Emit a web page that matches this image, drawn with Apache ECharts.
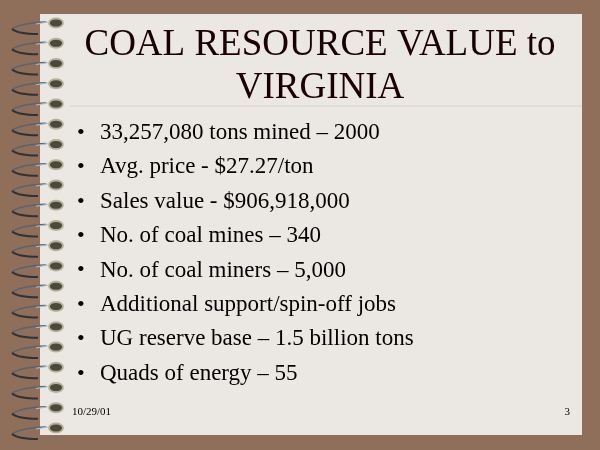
<!DOCTYPE html>
<html><head><meta charset="utf-8">
<script src="https://cdn.jsdelivr.net/npm/echarts@6/dist/echarts.min.js"></script>
<style>html,body{margin:0;padding:0;background:#8f6e5a}#c{width:600px;height:450px}</style>
</head><body><div id="c"></div>
<script>
const titleLines = ["COAL RESOURCE VALUE to", "VIRGINIA"];
const bullets = [
  "33,257,080 tons mined \u2013 2000",
  "Avg. price - $27.27/ton",
  "Sales value - $906,918,000",
  "No. of coal mines \u2013 340",
  "No. of coal miners \u2013 5,000",
  "Additional support/spin-off jobs",
  "UG reserve base \u2013 1.5 billion tons",
  "Quads of energy \u2013 55"
];
const footerDate = "10/29/01";
const pageNumber = "3";
const ringCount = 21;

const chart = echarts.init(document.getElementById('c'));
const g = [];
g.push({type:'rect', shape:{x:0,y:0,width:600,height:450}, style:{fill:'#8f6e5a'}});
g.push({type:'rect', shape:{x:40,y:14,width:542,height:421}, style:{fill:'#ebe7e3'}});
for (let i = 0; i < ringCount; i++) {
  const y = 23 + i * 20.25;
  g.push({type:'bezierCurve', shape:{x1:12,y1:y+6,cpx1:20,cpy1:y,x2:46,y2:y-1}, style:{stroke:'#5a6470',lineWidth:1.6,fill:null}});
  g.push({type:'bezierCurve', shape:{x1:12,y1:y+6,cpx1:18,cpy1:y+11,x2:38,y2:y+11}, style:{stroke:'#2e3338',lineWidth:2,fill:null}});
  g.push({type:'line', shape:{x1:36,y1:y+1,x2:48,y2:y-1}, style:{stroke:'#a8c0c8',lineWidth:1.2}});
  g.push({type:'ellipse', shape:{cx:56,cy:y,rx:7,ry:4.5}, style:{fill:'#4a4a3c',stroke:'#b5b196',lineWidth:1.8}});
}
titleLines.forEach((t, i) => {
  g.push({type:'text', x:320, y:45 + i*43, style:{text:t, font:'37px "Liberation Serif"', fill:'#1a0000', align:'center', verticalAlign:'middle'}});
});
g.push({type:'line', shape:{x1:70,y1:106,x2:582,y2:106}, style:{stroke:'#d4d0cc',lineWidth:1}});
bullets.forEach((t, i) => {
  const y = 133 + i*34.4;
  g.push({type:'text', x:77, y:y, style:{text:'\u2022', font:'22px "Liberation Serif"', fill:'#000', verticalAlign:'middle'}});
  g.push({type:'text', x:100, y:y, style:{text:t, font:'23px "Liberation Serif"', fill:'#000', verticalAlign:'middle'}});
});
g.push({type:'text', x:72, y:412, style:{text:footerDate, font:'11px "Liberation Serif"', fill:'#000', verticalAlign:'middle'}});
g.push({type:'text', x:570, y:412, style:{text:pageNumber, font:'11px "Liberation Serif"', fill:'#000', align:'right', verticalAlign:'middle'}});
chart.setOption({animation:false, graphic:{elements:g}});
</script></body></html>
